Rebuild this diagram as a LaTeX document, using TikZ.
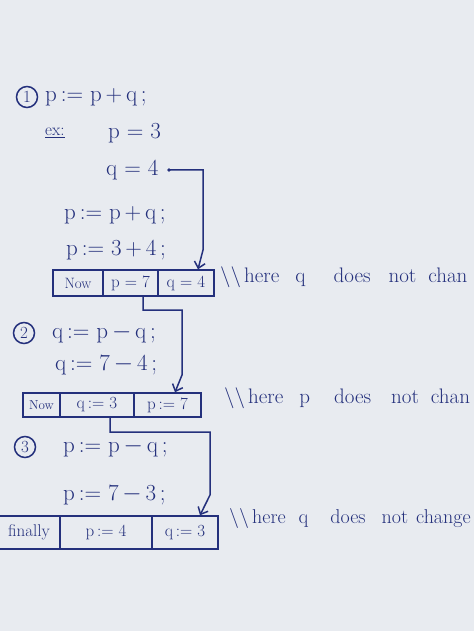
\documentclass[tikz,border=0pt]{standalone}
\usepackage{fontspec}
\usetikzlibrary{arrows.meta}
\definecolor{paper}{RGB}{232,235,240}
\definecolor{inkc}{RGB}{36,48,124}
\begin{document}
\begin{tikzpicture}[x=1pt,y=-1pt,
  eqn/.style={text=inkc, anchor=west, inner sep=0pt, font=\fontsize{23}{26}\selectfont},
  numc/.style={draw=inkc, line width=1.5pt, circle, minimum size=21pt, inner sep=0pt, text=inkc, font=\fontsize{17}{19}\selectfont},
  cell/.style={draw=inkc, line width=1.5pt, rectangle, inner sep=0pt, text=inkc, font=\fontsize{17}{19}\selectfont},
  note/.style={text=inkc, anchor=west, inner sep=0pt, font=\fontsize{21}{24}\selectfont},
  conn/.style={draw=inkc, line width=1.5pt, -{Straight Barb[length=6pt,width=11pt]}}
]
\fill[paper] (0,0) rectangle (474,631);
\useasboundingbox (0,0) rectangle (474,631);
\clip (0,0) rectangle (474,631);

% step 1
\node[numc] (c1) at (27,97) {1};
\node[eqn] (e1) at (45,97) {p\,:= p\,+\,q\,;};
\node[eqn, font=\fontsize{17}{20}\selectfont] (ex) at (45,133) {\underline{ex:}};
\node[eqn] (p3) at (108,133) {p = 3};
\node[eqn] (q4) at (106,170) {q = 4};
\coordinate (dot) at (169,170);
\fill[inkc] (dot) circle (1.8pt);
\node[eqn] (e2) at (64,215) {p\,:= p\,+\,q\,;};
\node[eqn] (e3) at (66,250) {p\,:= 3\,+\,4\,;};

% box 1
\node[cell, minimum width=50pt, minimum height=26pt] (b1a) at (78,283) {\fontsize{15}{17}\selectfont Now};
\node[cell, minimum width=55pt, minimum height=26pt] (b1b) at (130.5,283) {p = 7};
\node[cell, minimum width=56pt, minimum height=26pt] (b1c) at (186,283) {q = 4};
\node[note] (n1) at (220,277) {\textbackslash\textbackslash\hspace{3pt}here\hspace{16pt}q\hspace{28pt}does\hspace{18pt}not\hspace{12pt}chan};
\draw[conn] (dot) -- (203,170) -- (203,250) -- (b1c.north -| 198,0);

% step 2
\node[numc] (c2) at (24,333) {2};
\node[eqn] (e4) at (52,333) {q\,:= p\,$-$\,q\,;};
\node[eqn] (e5) at (55,365) {q\,:= 7\,$-$\,4\,;};

% box 2
\node[cell, minimum width=37pt, minimum height=24pt] (b2a) at (41.5,405) {\fontsize{13}{15}\selectfont Now};
\node[cell, minimum width=74pt, minimum height=24pt] (b2b) at (97,405) {q\,:= 3};
\node[cell, minimum width=67pt, minimum height=24pt] (b2c) at (167.5,405) {p\,:= 7};
\node[note] (n2) at (224,398) {\textbackslash\textbackslash\hspace{3pt}here\hspace{16pt}p\hspace{24pt}does\hspace{20pt}not\hspace{12pt}chan};
\draw[conn] (b1b.south -| 143,0) -- (143,310) -- (182,310) -- (182,375) -- (b2c.north -| 175,0);

% step 3
\node[numc] (c3) at (25,447) {3};
\node[eqn] (e6) at (63,447) {p\,:= p\,$-$\,q\,;};
\node[eqn] (e7) at (63,495) {p\,:= 7\,$-$\,3\,;};

% box 3
\node[cell, minimum width=62pt, minimum height=33pt] (b3a) at (29,532.5) {finally};
\node[cell, minimum width=92pt, minimum height=33pt] (b3b) at (106,532.5) {p\,:= 4};
\node[cell, minimum width=66pt, minimum height=33pt] (b3c) at (185,532.5) {q\,:= 3};
\node[note, font=\fontsize{20}{23}\selectfont] (n3) at (229,518) {\textbackslash\textbackslash\hspace{3pt}here\hspace{13pt}q\hspace{22pt}does\hspace{16pt}not\hspace{8pt}change};
\draw[conn] (b2b.south -| 110,0) -- (110,432) -- (210,432) -- (210,495) -- (b3c.north -| 200,0);
\end{tikzpicture}
\end{document}
